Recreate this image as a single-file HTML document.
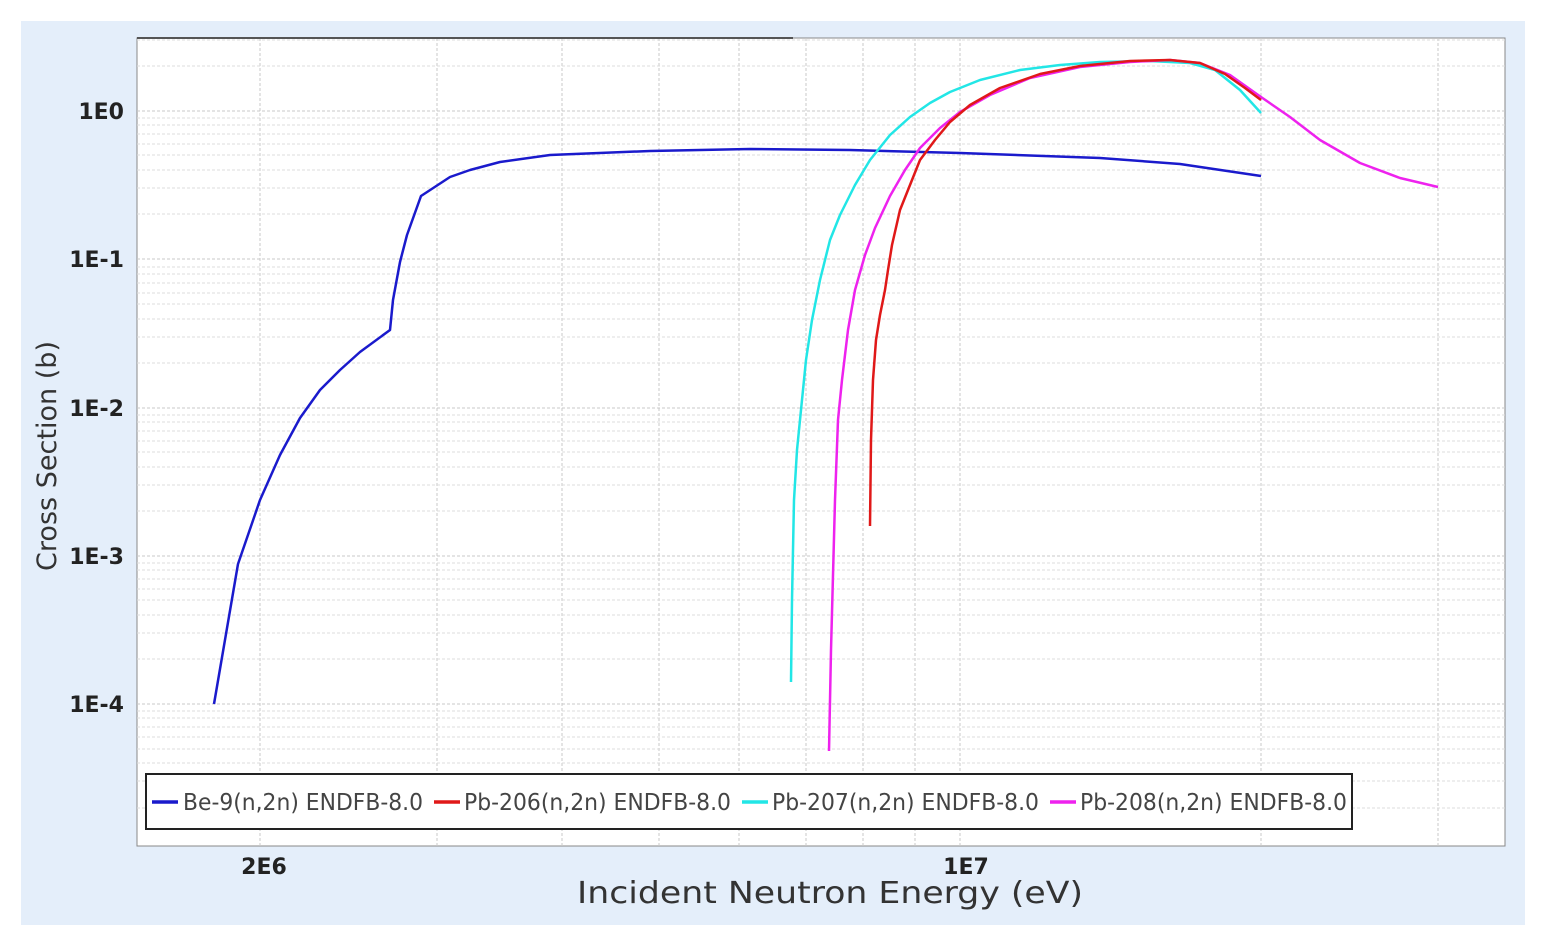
<!DOCTYPE html>
<html><head><style>html,body{margin:0;padding:0;background:#fff}svg{display:block}</style></head><body>
<svg width="1553" height="946" xmlns="http://www.w3.org/2000/svg" font-family="DejaVu Sans, Liberation Sans, sans-serif">
<rect x="0" y="0" width="1553" height="946" fill="#fff"/>
<rect x="21" y="21" width="1504" height="904" fill="#e4eefa"/>
<rect x="137" y="38" width="1368" height="808" fill="#fff" stroke="#888" stroke-width="1"/>
<g stroke="#c8c8c8" stroke-width="1" stroke-dasharray="3,2" fill="none">
<path d="M260 38V846M437 38V846M562 38V846M659 38V846M739 38V846M806 38V846M863 38V846M915 38V846M960 38V846M1261 38V846M1438 38V846"/>
<path d="M137 111H1505M137 259H1505M137 408H1505M137 556H1505M137 704H1505"/>
<path stroke="#dcdcdc" d="
M137 66H1505M137 40H1505
M137 214H1505M137 188H1505M137 170H1505M137 155H1505M137 144H1505M137 134H1505M137 125H1505M137 118H1505
M137 363H1505M137 337H1505M137 319H1505M137 304H1505M137 293H1505M137 283H1505M137 274H1505M137 267H1505
M137 511H1505M137 485H1505M137 467H1505M137 452H1505M137 441H1505M137 431H1505M137 422H1505M137 415H1505
M137 659H1505M137 633H1505M137 615H1505M137 600H1505M137 589H1505M137 579H1505M137 570H1505M137 563H1505
M137 808H1505M137 781H1505M137 763H1505M137 749H1505M137 737H1505M137 727H1505M137 718H1505M137 711H1505"/>
</g>
<line x1="137" y1="38" x2="793" y2="38" stroke="#555" stroke-width="2"/>
<g fill="none" stroke-width="2.5" stroke-linejoin="round">
<polyline stroke="#1a1acc" points="214,704 238,564 260,500 280,455 300,418 320,390 340,370 360,352 390,330 393,300 400,262 407,235 421,196 450,177 470,170 500,162 550,155 650,151 750,149 850,150 960,153 1100,158 1180,164 1261,176"/>
<polyline stroke="#22e6e6" points="791,682 792,600 794,500 797,450 801,410 806,360 812,320 820,280 830,240 840,215 855,185 870,160 890,135 910,117 930,103 950,92 980,80 1020,70 1060,65 1100,62 1150,61 1190,63 1215,70 1240,90 1261,113"/>
<polyline stroke="#ee22ee" points="829,751 831,650 835,500 838,420 842,380 848,330 855,290 865,255 875,228 890,196 905,170 920,148 940,128 960,112 990,95 1030,78 1080,67 1130,62 1170,60 1200,63 1230,75 1261,97 1290,117 1320,140 1360,163 1400,178 1438,187"/>
<polyline stroke="#e01818" points="870,526 871,440 873,380 876,340 880,315 885,290 888,270 892,245 900,210 910,185 920,160 935,140 950,122 970,105 1000,88 1040,74 1080,66 1130,61 1170,60 1200,63 1225,74 1245,88 1261,100"/>
</g>
<rect x="146" y="774" width="1206" height="55" fill="#fff" stroke="#222" stroke-width="2"/>
<g stroke-width="3.5">
<line x1="152" y1="802" x2="178" y2="802" stroke="#1a1acc"/>
<line x1="434" y1="802" x2="460" y2="802" stroke="#e01818"/>
<line x1="742" y1="802" x2="768" y2="802" stroke="#22e6e6"/>
<line x1="1050" y1="802" x2="1076" y2="802" stroke="#ee22ee"/>
</g>
<g font-size="23" fill="#444">
<text x="183" y="810" textLength="240" lengthAdjust="spacingAndGlyphs">Be-9(n,2n) ENDFB-8.0</text>
<text x="464" y="810" textLength="267" lengthAdjust="spacingAndGlyphs">Pb-206(n,2n) ENDFB-8.0</text>
<text x="772" y="810" textLength="267" lengthAdjust="spacingAndGlyphs">Pb-207(n,2n) ENDFB-8.0</text>
<text x="1080" y="810" textLength="267" lengthAdjust="spacingAndGlyphs">Pb-208(n,2n) ENDFB-8.0</text>
</g>
<g font-size="22" fill="#222" font-weight="bold" text-anchor="end">
<text x="124" y="119">1E0</text>
<text x="124" y="267">1E-1</text>
<text x="124" y="416">1E-2</text>
<text x="124" y="564">1E-3</text>
<text x="124" y="712">1E-4</text>
</g>
<g font-size="22" fill="#222" font-weight="bold" text-anchor="middle">
<text x="264" y="874">2E6</text>
<text x="966" y="874">1E7</text>
</g>
<text x="830" y="903" font-size="30" fill="#333" text-anchor="middle" textLength="506" lengthAdjust="spacingAndGlyphs">Incident Neutron Energy (eV)</text>
<text transform="translate(56,456) rotate(-90)" font-size="27" fill="#333" text-anchor="middle" textLength="230" lengthAdjust="spacingAndGlyphs">Cross Section (b)</text>
</svg>
</body></html>
